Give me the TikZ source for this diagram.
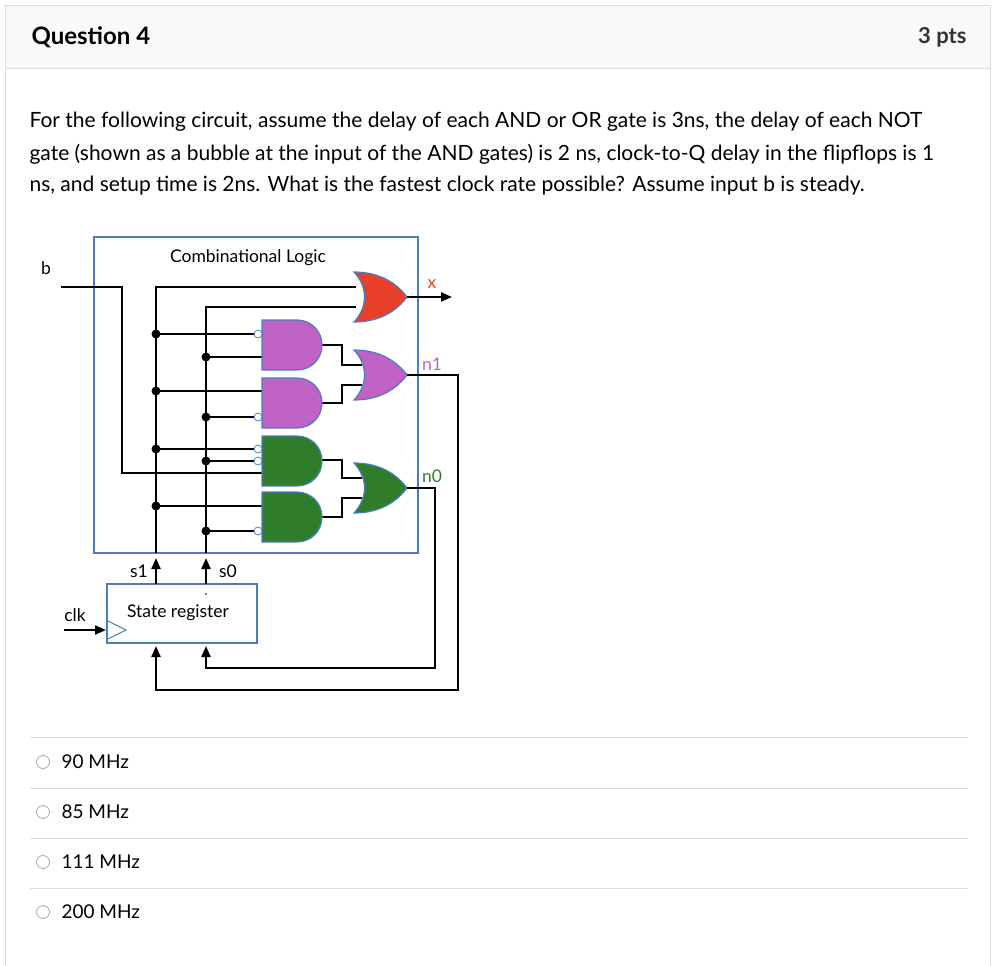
\documentclass[tikz,border=0pt]{standalone}
\usepackage{fontspec}
\setmainfont{Lato}
\usetikzlibrary{arrows.meta}
\definecolor{orred}{HTML}{E8402A}
\definecolor{pur}{HTML}{C062C4}
\definecolor{grn}{HTML}{2F7D2A}
\definecolor{bbl}{HTML}{4A7EC0}
\definecolor{ln}{HTML}{DDDDDD}
\begin{document}
\begin{tikzpicture}[x=1pt,y=-1pt,
  wire/.style={line width=2.2pt,black},
  gate/.style={draw=bbl,line width=1.2pt},
  bub/.style={draw=bbl,fill=white,line width=0.8pt},
  dot/.style={fill=black},
  lbl/.style={font=\fontsize{17.5}{20}\selectfont},
  arr/.style={wire,-{Triangle[length=11pt,width=9pt]}},
  body/.style={font=\fontsize{21}{32}\selectfont,anchor=west}]
\useasboundingbox (0,0) rectangle (994,966);
% header
\fill[gray!5] (5,5) rectangle (990,68);
\draw[ln] (5,5) rectangle (990,68);
\draw[ln] (5,68) -- (5,966);
\draw[ln] (990,68) -- (990,966);
\node[anchor=west,font=\fontsize{24}{28}\selectfont\bfseries] (q) at (28,37) {Question 4};
\node[anchor=east,font=\fontsize{22}{26}\selectfont\bfseries,text=black!80] (p) at (970,37) {3 pts};
\node[body] (t1) at (26,122) {For the following circuit, assume the delay of each AND or OR gate is 3ns, the delay of each NOT};
\node[body] (t2) at (26,154) {gate (shown as a bubble at the input of the AND gates) is 2 ns, clock-to-Q delay in the flipflops is 1};
\node[body] (t3) at (26,186) {ns, and setup time is 2ns. What is the fastest clock rate possible? Assume input b is steady.};
% box
\draw[bbl,line width=1.5pt] (94,237) rectangle (418,553);
\node[lbl] (cl) at (248,258) {Combinational Logic};
\node[lbl] (bl) at (46,268) {b};
% wires
\coordinate (bin) at (61,287);
\draw[wire] (bin) -- (122,287) -- (122,473) -- (262,473);
\draw[wire] (356,287) -- (156,287) -- (156,553);
\draw[wire] (356,307) -- (206,307) -- (206,553);
\foreach \y in {334,391,449,506}{\draw[wire] (156,\y) -- (262,\y); \fill[dot] (156,\y) circle (4.5);}
\foreach \y in {357,417,461,531}{\draw[wire] (206,\y) -- (262,\y); \fill[dot] (206,\y) circle (4.5);}
% and -> or wiring
\draw[wire] (322,345) -- (342,345) -- (342,365) -- (362,365);
\draw[wire] (322,403) -- (342,403) -- (342,385) -- (362,385);
\draw[wire] (322,460) -- (342,460) -- (342,478) -- (362,478);
\draw[wire] (322,517) -- (342,517) -- (342,498) -- (362,498);
% AND gates
\foreach \t/\c in {320/pur,378/pur,436/grn,492/grn}{
  \pgfmathsetmacro{\b}{\t+50}\pgfmathsetmacro{\m}{\t+25}
  \filldraw[gate,fill=\c] (262,\t) -- (297,\t) .. controls (311,\t) and (322,\m-14) .. (322,\m) .. controls (322,\m+14) and (311,\b) .. (297,\b) -- (262,\b) -- cycle;}
% OR gates
\foreach \t/\c in {272/orred,350/pur,463/grn}{
  \pgfmathsetmacro{\b}{\t+50}\pgfmathsetmacro{\m}{\t+25}
  \filldraw[gate,fill=\c] (354,\t) .. controls (382,\t) and (398,\m-12) .. (407,\m) .. controls (398,\m+12) and (382,\b) .. (354,\b) .. controls (368,\m+10) and (368,\m-10) .. (354,\t) -- cycle;}
% bubbles
\foreach \y in {334,417,449,461,531}{\filldraw[bub] (258,\y) circle (4);}
% outputs
\coordinate (xo) at (452,297);
\draw[arr] (407,297) -- (xo);
\node[lbl,text=orred] (xl) at (432,284) {x};
\node[lbl,text=pur] (n1l) at (432,364) {n1};
\node[lbl,text=grn] (n0l) at (432,476) {n0};
% register
\node[draw=bbl,line width=1.5pt,minimum width=150pt,minimum height=59pt,inner sep=0pt] (reg) at (182,613.5) {};
\node[lbl] (rl) at (178,613) {State register};
\draw[bbl,line width=1pt] (108,621) -- (126,630) -- (108,639);
\fill (206,594) circle (0.8);
\draw[arr] (156,584) -- (156,558);
\draw[arr] (206,584) -- (206,558);
\node[lbl] (s1) at (139,571) {s1};
\node[lbl] (s0) at (228,571) {s0};
\node[lbl] (clk) at (75,615) {clk};
\coordinate (ck) at (64,630);
\draw[arr] (ck) -- (106,630);
\draw[arr] (407,375) -- (458,375) -- (458,690) -- (156,690) -- (156,646);
\draw[arr] (407,488) -- (435,488) -- (435,668) -- (206,668) -- (206,646);
% options
\foreach \y/\s in {762/90 MHz,812/85 MHz,862/111 MHz,912/200 MHz}{
  \draw[gray!70,line width=0.8pt] (43,\y) circle (6.5);
  \node[anchor=west,font=\fontsize{19}{22}\selectfont] at (58,\y) {\s};}
\foreach \y in {737,788,838,888}{\draw[ln] (30,\y) -- (968,\y);}
\end{tikzpicture}
\end{document}
